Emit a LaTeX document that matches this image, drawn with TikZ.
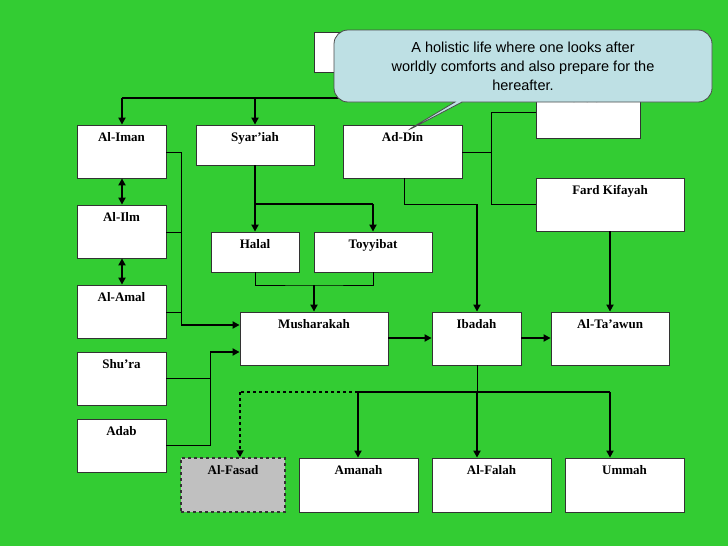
\documentclass[tikz,border=0pt]{standalone}
\usepackage{fontspec}
\setmainfont{Liberation Serif}
\newfontfamily\sansf{Liberation Sans}
\usetikzlibrary{arrows.meta,shapes.callouts}
\definecolor{bg}{HTML}{33CC33}
\definecolor{call}{HTML}{BEE0E4}
\tikzset{
 box/.style={draw=black!80,fill=white,line width=0.8pt,inner sep=0pt},
 lbl/.style={font=\bfseries\fontsize{13}{15}\selectfont,anchor=north,inner sep=0pt},
 thin/.style={line width=0.8pt},
 thk/.style={line width=1.8pt},
 arr/.style={-{Triangle[length=7pt,width=7pt]}},
 darr/.style={{Triangle[length=7pt,width=7pt]}-{Triangle[length=7pt,width=7pt]}},
}
\newcommand{\bx}[6][]{\node[box,#1,minimum width=#4pt-#2pt,minimum height=#5pt-#3pt] (#6) at ({(#2+#4)/2},{(#3+#5)/2}) {};}
\begin{document}
\begin{tikzpicture}[x=1pt,y=-1pt]
\fill[bg] (0,0) rectangle (728,546);
\useasboundingbox (0,0) rectangle (728,546);
\bx{314}{32}{420}{72}{T}
\bx{536}{86}{640}{138}{fain}
\bx{77}{125}{166}{178}{iman}
\bx{196}{125}{314}{165}{syar}
\bx{343}{125}{462}{178}{addin}
\bx{536}{178}{684}{231}{fk}
\bx{77}{205}{166}{258}{ilm}
\bx{211}{232}{299}{272}{halal}
\bx{314}{232}{432}{272}{toy}
\bx{77}{285}{166}{338}{amal}
\bx{240}{312}{388}{365}{mush}
\bx{432}{312}{521}{365}{ibadah}
\bx{551}{312}{669}{365}{taawun}
\bx{77}{352}{166}{405}{shura}
\bx{77}{419}{166}{472}{adab}
\bx[fill={rgb,255:red,192;green,192;blue,192},dashed,line width=1.4pt]{181}{458}{285}{512}{fasad}
\bx{299}{458}{418}{512}{amanah}
\bx{432}{458}{551}{512}{falah}
\bx{565}{458}{684}{512}{ummah}
\foreach \n/\t in {T/T,fain/Fard ain,iman/Al-Iman,syar/Syar’iah,addin/Ad-Din,fk/Fard Kifayah,ilm/Al-Ilm,halal/Halal,toy/Toyyibat,amal/Al-Amal,mush/Musharakah,ibadah/Ibadah,taawun/Al-Ta’awun,shura/Shu’ra,adab/Adab,fasad/Al-Fasad,amanah/Amanah,falah/Al-Falah,ummah/Ummah}
  \node[lbl] (\n-t) at ([yshift=-8pt]\n.north) {\t};
% top bar
\coordinate (tb1) at (122,98);
\coordinate (tb2) at (255,98);
\coordinate (tb3) at (440,98);
\draw[thk] (tb1) -- (tb3);
\draw[thk,arr] (tb1) -- (iman.north -| tb1);
\draw[thk,arr] (tb2) -- (syar.north);
% Ad-Din to Fard
\coordinate (ad1) at (491,152);
\draw[thin] (addin.east |- ad1) -- (ad1);
\draw[thin] (fain.west |- 0,112) -| (491,204) -- (fk.west |- 0,204);
% Ad-Din to Ibadah
\coordinate (ad2) at (404,204);
\coordinate (ad3) at (477,204);
\draw[thin] (addin.south -| ad2) -- (ad2) -- (ad3);
\draw[thk,arr] (ad3) -- (ibadah.north -| ad3);
% Syar'iah
\coordinate (sy1) at (255,204);
\coordinate (sy2) at (373,204);
\draw[thk] (syar.south) -- (sy1) -- (sy2);
\draw[thk,arr] (sy1) -- (halal.north -| sy1);
\draw[thk,arr] (sy2) -- (toy.north -| sy2);
% Halal/Toyyibat
\coordinate (ht) at (314,285);
\draw[thin] (halal.south -| sy1) |- (ht) -| (toy.south -| sy2);
\draw[thk,arr] (ht) -- (mush.north -| ht);
% left column
\coordinate (lc1) at (181,152);
\coordinate (lc2) at (181,325);
\draw[thin] (iman.east |- lc1) -- (lc1) -- (lc2);
\draw[thin] (ilm.east |- 0,232) -- (181,232);
\draw[thin] (amal.east |- 0,312) -- (181,312);
\draw[thk,arr] (lc2) -- (mush.west |- lc2);
\draw[thk,darr] (iman.south -| tb1) -- (ilm.north -| tb1);
\draw[thk,darr] (ilm.south -| tb1) -- (amal.north -| tb1);
% Shu'ra / Adab
\coordinate (sa) at (210,352);
\draw[thin] (shura.east |- 0,378) -- (210,378);
\draw[thin] (adab.east |- 0,445) -| (sa);
\draw[thk,arr] (sa) -- (mush.west |- sa);
% middle row
\draw[thk,arr] (mush.east |- 0,338) -- (ibadah.west |- 0,338);
\draw[thk,arr] (ibadah.east |- 0,338) -- (taawun.west |- 0,338);
\draw[thk,arr] (fk.south -| 610,0) -- (taawun.north -| 610,0);
% bottom
\coordinate (b0) at (240,392);
\coordinate (b1) at (358,392);
\coordinate (b2) at (477,392);
\coordinate (b3) at (610,392);
\draw[thin] (ibadah.south -| b2) -- (b2);
\draw[thk] (b1) -- (b3);
\draw[thk,dashed] (b1) -- (b0);
\draw[thk,dashed,arr] (b0) -- (fasad.north -| b0);
\draw[thk,arr] (b1) -- (amanah.north -| b1);
\draw[thk,arr] (b2) -- (falah.north -| b2);
\draw[thk,arr] (b3) -- (ummah.north -| b3);
% callout
\node[rectangle callout,rounded corners=14pt,draw=black!70,fill=call,line width=0.8pt,
  minimum width=378pt,minimum height=72pt,callout absolute pointer={(403,133)},
  align=center,font=\sansf\fontsize{14.5}{19}\selectfont,inner sep=2pt] (cl) at (523,66)
  {A holistic life where one looks after\\worldly comforts and also prepare for the\\hereafter.};
\end{tikzpicture}
\end{document}
